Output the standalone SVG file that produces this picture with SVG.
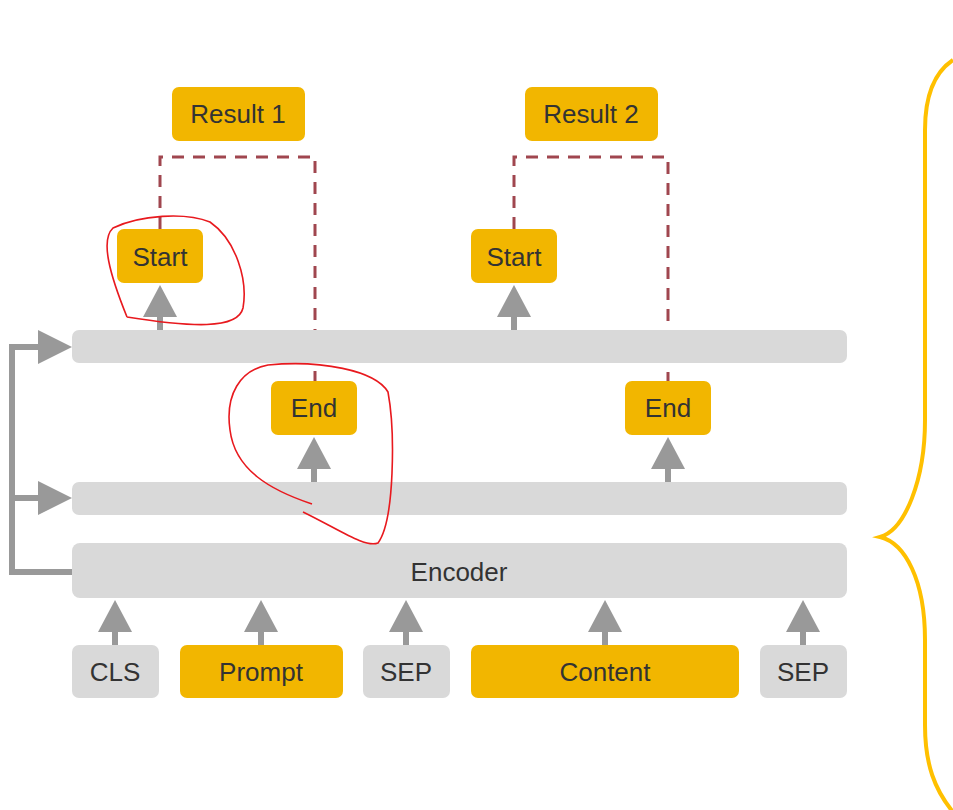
<svg xmlns="http://www.w3.org/2000/svg" width="953" height="810" viewBox="0 0 953 810">
<style>
.o{fill:#F2B600}
.g{fill:#D9D9D9}
.t{font-family:"Liberation Sans",Arial,sans-serif;font-size:26px;fill:#333;text-anchor:middle;dominant-baseline:central}
.ar{fill:#999}
.st{stroke:#999;stroke-width:6;fill:none}
.d{stroke:#A0464F;stroke-width:3;stroke-dasharray:12 9;fill:none}
.r{stroke:#E8191E;stroke-width:1.6;fill:none}
</style>
<rect width="953" height="810" fill="#fff"/>
<g id="connectors">
<path class="d" d="M160 229V157H315V381"/>
<path class="d" d="M514 229V157H668V381"/>
<path class="st" d="M72 572H12V347H40M12 498H40"/>
<polygon class="ar" points="38,330 72,347 38,364"/>
<polygon class="ar" points="38,481 72,498 38,515"/>
<g id="up">
<path class="st" d="M160 330V312M514 330V312M314 482V464M668 482V464M115 645V627M261 645V627M406 645V627M605 645V627M803 645V627"/>
<polygon class="ar" points="160,285 177,317 143,317"/>
<polygon class="ar" points="514,285 531,317 497,317"/>
<polygon class="ar" points="314,437 331,469 297,469"/>
<polygon class="ar" points="668,437 685,469 651,469"/>
<polygon class="ar" points="115,600 132,632 98,632"/>
<polygon class="ar" points="261,600 278,632 244,632"/>
<polygon class="ar" points="406,600 423,632 389,632"/>
<polygon class="ar" points="605,600 622,632 588,632"/>
<polygon class="ar" points="803,600 820,632 786,632"/>
</g>
</g>
<g id="bar1"><rect class="g" x="72" y="330" width="775" height="33" rx="7"/></g>
<g id="bar2"><rect class="g" x="72" y="482" width="775" height="33" rx="7"/></g>
<g id="encoder"><rect class="g" x="72" y="543" width="775" height="55" rx="8"/><text class="t" x="459" y="572">Encoder</text></g>
<g id="result1"><rect class="o" x="172" y="87" width="133" height="54" rx="7"/><text class="t" x="238" y="114">Result 1</text></g>
<g id="result2"><rect class="o" x="525" y="87" width="133" height="54" rx="7"/><text class="t" x="591" y="114">Result 2</text></g>
<g id="start1"><rect class="o" x="117" y="229" width="86" height="54" rx="7"/><text class="t" x="160" y="257">Start</text></g>
<g id="start2"><rect class="o" x="471" y="229" width="86" height="54" rx="7"/><text class="t" x="514" y="257">Start</text></g>
<g id="end1"><rect class="o" x="271" y="381" width="86" height="54" rx="7"/><text class="t" x="314" y="408">End</text></g>
<g id="end2"><rect class="o" x="625" y="381" width="86" height="54" rx="7"/><text class="t" x="668" y="408">End</text></g>
<g id="cls"><rect class="g" x="72" y="645" width="87" height="53" rx="7"/><text class="t" x="115" y="672">CLS</text></g>
<g id="prompt"><rect class="o" x="180" y="645" width="163" height="53" rx="7"/><text class="t" x="261" y="672">Prompt</text></g>
<g id="sep1"><rect class="g" x="363" y="645" width="87" height="53" rx="7"/><text class="t" x="406" y="672">SEP</text></g>
<g id="content"><rect class="o" x="471" y="645" width="268" height="53" rx="7"/><text class="t" x="605" y="672">Content</text></g>
<g id="sep2"><rect class="g" x="760" y="645" width="87" height="53" rx="7"/><text class="t" x="803" y="672">SEP</text></g>
<g id="brace"><path d="M953 60C935 72 925 95 925 130V420C925 480 905 530 880 537C905 543 925 580 925 640V725C925 765 935 790 953 812" fill="none" stroke="#FFC000" stroke-width="4"/></g>
<g id="annotations">
<path class="r" d="M127 317C190 327 238 330 243 308C248 280 236 240 210 222C185 212 140 215 113 228C100 240 110 275 127 317"/>
<path class="r" d="M312 504C270 490 235 470 230 430C225 395 240 370 268 365C320 360 375 370 388 392C395 430 395 520 378 543C365 548 340 530 303 512"/>
</g>
</svg>
